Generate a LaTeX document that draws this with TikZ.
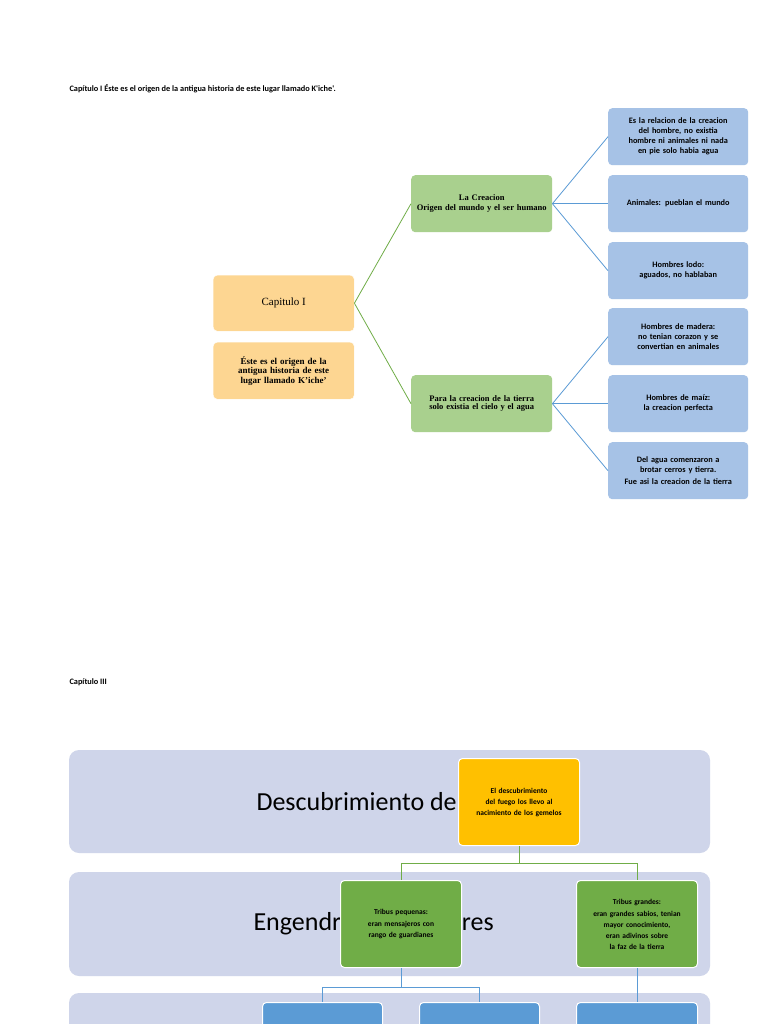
\documentclass[tikz,border=0pt]{standalone}
\usepackage{fontspec}
\setmainfont{Liberation Serif}
\newfontfamily\calfont{Carlito}
\hyphenpenalty=10000
\exhyphenpenalty=10000
\begin{document}
\begin{tikzpicture}[x=1pt,y=-1pt,
 box/.style={rounded corners=4pt,inner sep=2pt,align=center,anchor=north west},
 orange/.style={box,draw=white},
 gbox/.style={box,fill={rgb,255:red,169;green,208;blue,142},font=\bfseries\fontsize{8.5}{8.5}\selectfont},
 bbox/.style={box,fill={rgb,255:red,166;green,194;blue,230},font=\calfont\bfseries\fontsize{8.3}{10}\selectfont},
 band/.style={rounded corners=10pt,fill={rgb,255:red,207;green,213;blue,234}},
 gline/.style={draw={rgb,255:red,112;green,173;blue,71},line width=0.8pt},
 bline/.style={draw={rgb,255:red,91;green,155;blue,213},line width=0.8pt},
 ybox/.style={box,fill={rgb,255:red,255;green,192;blue,0},draw=white,line width=1pt,font=\calfont\bfseries\fontsize{7.5}{11}\selectfont},
 dgbox/.style={box,fill={rgb,255:red,112;green,173;blue,71},draw=white,line width=1pt,font=\calfont\bfseries\fontsize{7.5}{11}\selectfont},
 dbbox/.style={box,fill={rgb,255:red,91;green,155;blue,213},draw=white,line width=1pt}]
\useasboundingbox (0,0) rectangle (768,1024);
\clip (0,0) rectangle (768,1024);
\fill[white] (0,0) rectangle (768,1024);
\node[anchor=west,font=\calfont\bfseries\fontsize{8.3}{9}\selectfont] (h1) at (66,89) {Capítulo I Éste es el origen de la antigua historia de este lugar llamado K'iche'.};
\node[orange,minimum width=141pt,minimum height=56pt,fill={rgb,255:red,253;green,214;blue,146},font=\fontsize{11}{12}\selectfont] (c1) at (213,275) {Capitulo I};
\node[orange,minimum width=141pt,minimum height=57pt,text width=124pt,fill={rgb,255:red,253;green,214;blue,146},font=\bfseries\fontsize{9}{9.5}\selectfont] (c2) at (213,342) {Éste es el origen de la antigua historia de este lugar llamado K'iche'};
\node[gbox,minimum width=141pt,minimum height=57pt,text width=130pt] (g1) at (411,175) {La Creacion\\[2pt]Origen del mundo y el ser humano};
\node[gbox,minimum width=141pt,minimum height=57pt,text width=132pt] (g2) at (411,375) {Para la creacion de la tierra solo existia el cielo y el agua};
\foreach \n/\y/\t in {b1/108/{Es la relacion de la creacion del hombre, no existia hombre ni animales ni nada en pie solo habia agua},
 b2/175/{Animales: pueblan el mundo},
 b3/242/{Hombres lodo: aguados, no hablaban},
 b4/308/{Hombres de madera: no tenian corazon y se convertian en animales},
 b5/375/{Hombres de maíz: la creacion perfecta},
 b6/442/{Del agua comenzaron a brotar cerros y tierra.\\[2pt]Fue asi la creacion de la tierra}}
 \node[bbox,minimum width=140pt,minimum height=57pt,text width=118pt] (\n) at (608,\y) {\t};
\draw[gline] (c1.east) -- (g1.west);
\draw[gline] (c1.east) -- (g2.west);
\foreach \n in {b1,b2,b3} \draw[bline] (g1.east) -- (\n.west);
\foreach \n in {b4,b5,b6} \draw[bline] (g2.east) -- (\n.west);
\node[anchor=west,font=\calfont\bfseries\fontsize{8.3}{9}\selectfont] (h3) at (66,682) {Capítulo III};
\fill[band] (69,750) rectangle (710,853);
\fill[band] (69,872) rectangle (710,976);
\fill[band] (69,993) rectangle (710,1100);
\node[anchor=west,font=\calfont\fontsize{26}{30}\selectfont] (t1) at (253,802) {Descubrimiento del};
\node[anchor=west,font=\calfont\fontsize{26}{30}\selectfont] (t2) at (250,924) {Engendrando hombres};
\node[ybox,minimum width=121pt,minimum height=87pt,text width=108pt] (y1) at (458,758) {El descubrimiento del fuego los llevo al nacimiento de los gemelos};
\node[dgbox,minimum width=121pt,minimum height=87pt,text width=115pt] (p1) at (340,880) {Tribus pequenas:\\[1pt]eran mensajeros con rango de guardianes\\[18pt]};
\node[dgbox,minimum width=121pt,minimum height=87pt,text width=100pt] (p2) at (576,880) {Tribus grandes:\\[1pt]eran grandes sabios, tenian mayor conocimiento, eran adivinos sobre la faz de la tierra};
\node[dbbox,minimum width=120pt,minimum height=60pt] (q1) at (262,1002) {};
\node[dbbox,minimum width=120pt,minimum height=60pt] (q2) at (419,1002) {};
\node[dbbox,minimum width=121pt,minimum height=60pt] (q3) at (576,1002) {};
\draw[gline] (y1.south) -- ++(0,17) -| (p1.north);
\draw[gline] (y1.south) -- ++(0,17) -| (p2.north);
\draw[bline] (p1.south) -- ++(0,19) -| (q1.north);
\draw[bline] (p1.south) -- ++(0,19) -| (q2.north);
\draw[bline] (p2.south) -- (q3.north);
\end{tikzpicture}
\end{document}
